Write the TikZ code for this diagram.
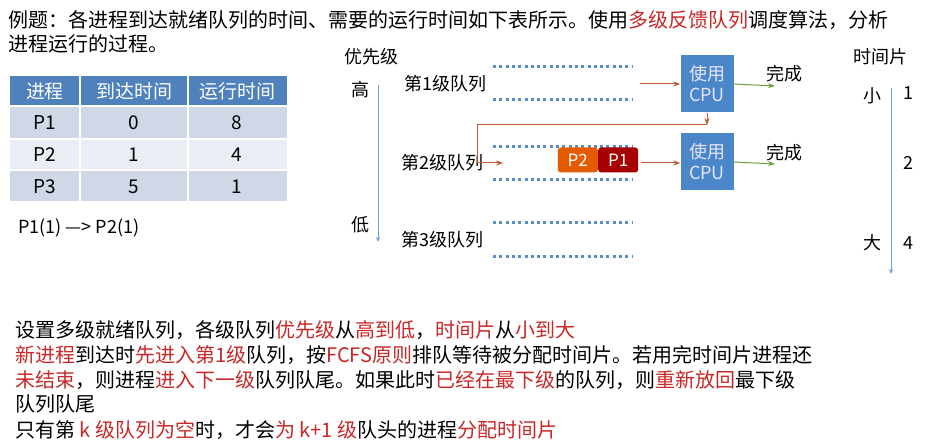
\documentclass[tikz,border=0pt]{standalone}
\usepackage{fontspec}
\setmainfont{Noto Sans CJK SC}
\usetikzlibrary{positioning,arrows.meta}
\definecolor{hlred}{RGB}{200,40,40}
\definecolor{cpublue}{RGB}{74,134,200}
\definecolor{hdblue}{RGB}{79,129,189}
\definecolor{rowA}{RGB}{208,216,232}
\definecolor{rowB}{RGB}{233,237,244}
\definecolor{flow}{RGB}{190,90,50}
\definecolor{done}{RGB}{110,160,60}
\definecolor{axis}{RGB}{110,160,210}
\definecolor{dots}{RGB}{90,140,200}
\newcommand{\hl}[1]{\textcolor{hlred}{#1}}
\tikzset{
  txt/.style={anchor=west, inner sep=0pt, font=\fontsize{20}{22}\selectfont},
  lbl/.style={anchor=west, inner sep=0pt, font=\fontsize{18}{20}\selectfont},
  cell/.style={minimum height=31pt, inner sep=0pt, font=\fontsize{19}{21}\selectfont},
  cpubox/.style={fill=cpublue, text=white!90!blue, minimum width=53pt, minimum height=57pt, align=center, font=\fontsize{18}{21}\selectfont},
  queue/.style={dots, dash pattern=on 3pt off 3.3pt, line width=3pt},
  pbox/.style={rounded corners=3pt, minimum width=40pt, minimum height=25pt, text=white, font=\fontsize{17}{19}\selectfont},
  arr/.style={-{Stealth[length=7pt,width=5pt]}, line width=1pt},
}
\begin{document}
\begin{tikzpicture}[x=1pt,y=-1pt]
    \useasboundingbox[fill=white] (0,0) rectangle (927,446);

    % Title
    \node[txt] (t1) at (8,20) {例题：各进程到达就绪队列的时间、需要的运行时间如下表所示。使用\hl{多级反馈队列}调度算法，分析};
    \node[txt] (t2) at (8,44) {进程运行的过程。};

    % Table
    \fill[hdblue] (10,76) rectangle (287,106);
    \fill[rowA] (10,106) rectangle (287,139);
    \fill[rowB] (10,139) rectangle (287,170);
    \fill[rowA] (10,170) rectangle (287,201);
    \foreach \y in {106,139,170} \draw[white, line width=1.5pt] (10,\y) -- (287,\y);
    \foreach \x in {80,188} \draw[white, line width=1.5pt] (\x,76) -- (\x,201);
    \node[cell, text=white] (h1) at (45,91) {进程};
    \node[cell, text=white] (h2) at (134,91) {到达时间};
    \node[cell, text=white] (h3) at (237,91) {运行时间};
    \foreach \p/\a/\r [count=\i] in {P1/0/8, P2/1/4, P3/5/1} {
        \node[cell] (p\i) at (45,91+\i*32) {\p};
        \node[cell] (a\i) at (134,91+\i*32) {\a};
        \node[cell] (r\i) at (237,91+\i*32) {\r};
    }
    \node[lbl] (order) at (18,228) {P1(1) —> P2(1)};

    % Priority axis
    \node[lbl] (prio) at (344,57) {优先级};
    \node[lbl] (high) at (351,90) {高};
    \node[lbl] (low) at (351,225) {低};
    \draw[axis, line width=1pt, -{Stealth[length=5pt,width=4pt]}] (378,85) -- (378,242);

    % Queues
    \node[lbl] (q1) at (404,84) {第1级队列};
    \node[lbl] (q2) at (401,163) {第2级队列};
    \node[lbl] (q3) at (401,240) {第3级队列};
    \foreach \y in {67,100,147,180,223,257} \draw[queue] (493,\y) -- (633,\y);

    % CPUs
    \node[cpubox] (cpu1) at (707,84) {使用\\CPU};
    \node[cpubox] (cpu2) at (707,162) {使用\\CPU};
    \node[pbox, fill=orange!80!red!90!black, anchor=east] (pb2) at (598,160) {P2};
    \node[pbox, fill=red!65!black, anchor=west] (pb1) at (598,160) {P1};

    \draw[flow, arr] (640,84) -- (cpu1.west);
    \draw[flow, arr] (pb1.east) ++(3,3) coordinate (p1e) -- (cpu2.west |- p1e);
    \coordinate (turn) at (707,125);
    \draw[flow, arr] (cpu1.south) -- (turn);
    \draw[flow, arr] (turn) -- (477,125) -- (477,163) -- (503,163);

    \draw[done, arr] (cpu1.east) -- (775,86);
    \draw[done, arr] (cpu2.east) -- (775,164);
    \node[lbl] (fin1) at (766,74) {完成};
    \node[lbl] (fin2) at (766,153) {完成};

    % Time slice axis
    \node[lbl] (slice) at (853,57) {时间片};
    \node[lbl] (small) at (863,96) {小};
    \node[lbl] (one) at (903,93) {1};
    \node[lbl] (two) at (903,163) {2};
    \node[lbl] (big) at (863,243) {大};
    \node[lbl] (four) at (903,243) {4};
    \draw[axis, line width=1pt, -{Stealth[length=5pt,width=4pt]}] (891,88) -- (891,274);

    % Explanation
    \node[txt] (e1) at (15,330) {设置多级就绪队列，各级队列\hl{优先级}从\hl{高到低}，\hl{时间片}从\hl{小到大}};
    \node[txt] (e2) at (15,355) {\hl{新进程}到达时\hl{先进入第1级}队列，按\hl{FCFS原则}排队等待被分配时间片。若用完时间片进程还};
    \node[txt] (e3) at (15,380) {\hl{未结束}，则进程\hl{进入下一级}队列队尾。如果此时\hl{已经在最下级}的队列，则\hl{重新放回}最下级};
    \node[txt] (e4) at (15,404) {队列队尾};
    \node[txt] (e5) at (15,430) {只有第 \hl{k 级队列为空}时，才会\hl{为 k+1 级}队头的进程\hl{分配时间片}};
\end{tikzpicture}
\end{document}
